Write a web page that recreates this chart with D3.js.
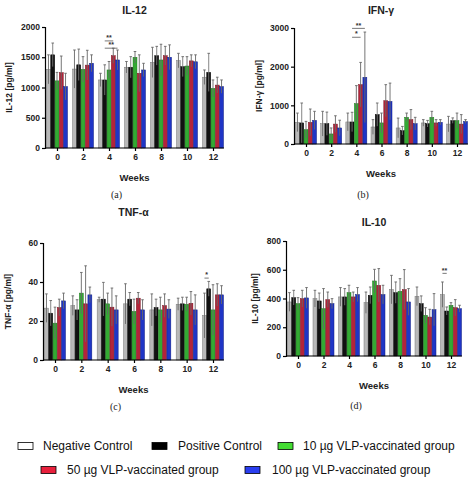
<!DOCTYPE html>
<html>
<head>
<meta charset="utf-8">
<script src="https://cdn.jsdelivr.net/npm/d3@7"></script>
<style>
	body { margin: 0; background: #fff; }
	svg { display: block; }
</style>
</head>
<body>
<div id="chart"></div>
<script>
// --- data ---
const weeks = [0, 2, 4, 6, 8, 10, 12];
const groups = ["Negative Control", "Positive Control", "10 µg VLP-vaccinated group",
	"50 µg VLP-vaccinated group", "100 µg VLP-vaccinated group"];
const barColors = ["#b8b8b8", "#111111", "#33aa33", "#b3243a", "#1f35c6"];
const barStrokes = ["#7a7a7a", "#000000", "#1f7a1f", "#7a1422", "#101f80"];
const legendColors = ["#ffffff", "#000000", "#44dd33", "#e8203c", "#2a3ef0"];

// IL-12 [pg/ml], one array per group, one value per week
const il12Mean = [
	[1300, 1305, 1125, 1335, 1415, 1445, 1170],
	[1540, 1375, 1125, 1335, 1525, 1345, 1250],
	[1110, 1300, 1290, 1500, 1455, 1355, 985],
	[1245, 1370, 1525, 1235, 1525, 1440, 1040],
	[1015, 1400, 1455, 1290, 1500, 1425, 1015]
];
const il12Sd = [
	[240, 315, 110, 95, 250, 120, 120],
	[195, 260, 250, 175, 155, 165, 315],
	[140, 210, 140, 95, 260, 155, 140],
	[275, 245, 125, 305, 155, 100, 130],
	[220, 140, 165, 110, 205, 115, 110]
];

// IFN-γ [pg/ml]
const ifngMean = [
	[560, 525, 570, 440, 415, 545, 515],
	[545, 525, 570, 760, 345, 525, 605],
	[370, 260, 1045, 545, 690, 690, 605],
	[560, 515, 1535, 1120, 630, 545, 515],
	[610, 415, 1725, 1100, 525, 560, 580]
];
const ifngSd = [
	[240, 320, 230, 190, 255, 85, 200],
	[515, 300, 250, 300, 110, 85, 70],
	[215, 155, 465, 255, 110, 155, 195],
	[345, 215, 575, 415, 260, 85, 245],
	[235, 200, 1170, 475, 165, 70, 50]
];

// TNF-α [pg/ml]
const tnfaMean = [
	[26.6, 27.9, 30.9, 28.8, 25.7, 28.6, 22.8],
	[24.0, 25.7, 31.2, 31.2, 26.9, 28.8, 36.5],
	[18.9, 34.3, 28.8, 24.9, 25.7, 28.6, 25.7],
	[26.9, 28.8, 27.1, 31.7, 27.9, 29.1, 33.4],
	[30.3, 33.4, 25.7, 25.7, 26.1, 25.7, 33.4]
];
const tnfaSd = [
	[7.3, 5.0, 1.3, 10.3, 8.2, 3.1, 11.5],
	[6.5, 5.2, 8.6, 3.4, 4.3, 3.4, 3.8],
	[8.2, 10.6, 5.5, 6.3, 6.5, 3.6, 12.9],
	[4.3, 19.5, 9.8, 2.9, 6.0, 6.0, 5.7],
	[4.0, 4.0, 7.2, 5.2, 4.8, 7.7, 4.7]
];

// IL-10 [pg/ml]
const il10Mean = [
	[376, 399, 411, 371, 462, 415, 427],
	[406, 383, 411, 422, 441, 364, 313],
	[364, 329, 441, 522, 450, 283, 353],
	[399, 392, 411, 492, 462, 271, 336],
	[404, 364, 427, 427, 376, 322, 329]
];
const il10Sd = [
	[65, 58, 65, 74, 99, 65, 88],
	[51, 55, 58, 58, 74, 54, 28],
	[42, 140, 51, 81, 88, 53, 18],
	[58, 53, 34, 116, 139, 54, 56],
	[72, 35, 49, 65, 93, 112, 24]
];

// significance marks: week, group from/to, level (data units), label
const il12Sig = [
	{week: 4, from: 1, to: 3, level: 1770, label: "**"},
	{week: 4, from: 1, to: 4, level: 1650, label: "**"}
];
const ifngSig = [
	{week: 4, from: 1, to: 4, level: 2990, label: "**"},
	{week: 4, from: 1, to: 3, level: 2760, label: "*"}
];
const tnfaSig = [{week: 12, from: 0, to: 1, level: 42, label: "*"}];
const il10Sig = [{week: 12, from: 0, to: 1, level: 575, label: "**"}];

const il12Ticks = [0, 500, 1000, 1500, 2000];
const ifngTicks = [0, 1000, 2000, 3000];
const tnfaTicks = [0, 20, 40, 60];
const il10Ticks = [0, 200, 400, 600, 800];

// --- layout ---
const W = 474, H = 481;
const SANS = "'Liberation Sans', Arial, sans-serif";
const SERIF = "'Liberation Serif', 'DejaVu Serif', serif";

const panels = [
	{title: "IL-12", ylabel: "IL-12 [pg/ml]", letter: "(a)", mean: il12Mean, sd: il12Sd, sig: il12Sig,
		ticks: il12Ticks, x0: 45, x1: 224, yTop: 27, yBot: 148, titleY: 14, weeksY: 181, letterY: 198, ylabelX: 12},
	{title: "IFN-γ", ylabel: "IFN-γ [pg/ml]", letter: "(b)", mean: ifngMean, sd: ifngSd, sig: ifngSig,
		ticks: ifngTicks, x0: 294, x1: 468, yTop: 28, yBot: 144, titleY: 14, weeksY: 177, letterY: 198, ylabelX: 262},
	{title: "TNF-α", ylabel: "TNF-α [pg/ml]", letter: "(c)", mean: tnfaMean, sd: tnfaSd, sig: tnfaSig,
		ticks: tnfaTicks, x0: 43, x1: 224, yTop: 243, yBot: 360, titleY: 216, weeksY: 393, letterY: 410, ylabelX: 11},
	{title: "IL-10", ylabel: "IL-10 [pg/ml]", letter: "(d)", mean: il10Mean, sd: il10Sd, sig: il10Sig,
		ticks: il10Ticks, x0: 286, x1: 462, yTop: 241, yBot: 356, titleY: 226, weeksY: 389, letterY: 409, ylabelX: 258}
];

const svg = d3.select("#chart").append("svg")
	.attr("width", W)
	.attr("height", H);

panels.forEach(p => drawPanel(p));
drawLegend();

function drawPanel(p) {
	const g = svg.append("g");
	const cx = (p.x0 + p.x1) / 2;

	const x = d3.scalePoint()
		.domain(weeks)
		.range([p.x0 + 12, p.x1 - 11]);

	const inner = d3.scaleBand()
		.domain(d3.range(groups.length))
		.range([-10.5, 10.5])
		.paddingInner(0.08);

	const y = d3.scaleLinear()
		.domain([0, p.ticks[p.ticks.length - 1]])
		.range([p.yBot, p.yTop]);

	// bars
	groups.forEach((name, gi) => {
		const bars = g.append("g");
		bars.selectAll("rect")
			.data(weeks).enter()
			.append("rect")
			.attr("x", (w, i) => x(w) + inner(gi))
			.attr("y", (w, i) => y(p.mean[gi][i]))
			.attr("width", inner.bandwidth())
			.attr("height", (w, i) => p.yBot - y(p.mean[gi][i]))
			.attr("fill", barColors[gi])
			.attr("stroke", barStrokes[gi])
			.attr("stroke-width", 0.5);

		// error bars (mean ± sd, cap on top)
		const ex = w => x(w) + inner(gi) + inner.bandwidth() / 2;
		bars.selectAll("line.err")
			.data(weeks).enter()
			.append("line")
			.attr("class", "err")
			.attr("x1", ex).attr("x2", ex)
			.attr("y1", (w, i) => y(Math.max(0, p.mean[gi][i] - p.sd[gi][i])))
			.attr("y2", (w, i) => y(p.mean[gi][i] + p.sd[gi][i]))
			.attr("stroke", gi === 1 ? "#777" : "#666")
			.attr("stroke-width", 0.9);
		bars.selectAll("line.cap")
			.data(weeks).enter()
			.append("line")
			.attr("class", "cap")
			.attr("x1", w => ex(w) - 1.3).attr("x2", w => ex(w) + 1.3)
			.attr("y1", (w, i) => y(p.mean[gi][i] + p.sd[gi][i]))
			.attr("y2", (w, i) => y(p.mean[gi][i] + p.sd[gi][i]))
			.attr("stroke", "#666")
			.attr("stroke-width", 0.9);
	});

	// y axis
	const yAxis = g.append("g")
		.attr("transform", `translate(${p.x0},0)`)
		.call(d3.axisLeft(y).tickValues(p.ticks).tickSize(3).tickPadding(2).tickFormat(d3.format("d")));
	yAxis.select(".domain").attr("stroke", "#000").attr("stroke-width", 1.2);
	yAxis.selectAll(".tick line").attr("stroke-width", 1.2);
	yAxis.selectAll("text")
		.attr("font-family", SANS)
		.attr("font-weight", "bold")
		.attr("font-size", 8.5)
		.attr("fill", "#222");

	// x axis
	const xAxis = g.append("g")
		.attr("transform", `translate(0,${p.yBot})`)
		.call(d3.axisBottom(x).tickSize(3).tickPadding(3).tickSizeOuter(0));
	xAxis.select(".domain")
		.attr("d", `M${p.x0},0H${p.x1}`)
		.attr("stroke", "#000").attr("stroke-width", 1.2);
	xAxis.selectAll(".tick line").attr("stroke-width", 1.2);
	xAxis.selectAll("text")
		.attr("font-family", SANS)
		.attr("font-weight", "bold")
		.attr("font-size", 8.5)
		.attr("fill", "#222");

	// significance marks
	p.sig.forEach(s => {
		const xa = x(s.week) + inner(s.from) + inner.bandwidth() / 2;
		const xb = x(s.week) + inner(s.to) + inner.bandwidth() / 2;
		g.append("line")
			.attr("x1", xa).attr("x2", xb)
			.attr("y1", y(s.level)).attr("y2", y(s.level))
			.attr("stroke", "#555").attr("stroke-width", 0.8);
		g.append("text")
			.attr("x", (xa + xb) / 2)
			.attr("y", y(s.level) - 0.8)
			.attr("text-anchor", "middle")
			.attr("font-family", SANS)
			.attr("font-weight", "bold")
			.attr("font-size", 7)
			.attr("fill", "#333")
			.text(s.label);
	});

	// titles
	g.append("text")
		.attr("x", cx).attr("y", p.titleY)
		.attr("text-anchor", "middle")
		.attr("font-family", SANS).attr("font-weight", "bold").attr("font-size", 10.5)
		.attr("fill", "#222")
		.text(p.title);

	g.append("text")
		.attr("x", cx).attr("y", p.weeksY)
		.attr("text-anchor", "middle")
		.attr("font-family", SANS).attr("font-weight", "bold").attr("font-size", 9.5)
		.attr("fill", "#222")
		.text("Weeks");

	g.append("text")
		.attr("x", cx - 18).attr("y", p.letterY)
		.attr("text-anchor", "middle")
		.attr("font-family", SERIF).attr("font-size", 10)
		.attr("fill", "#222")
		.text(p.letter);

	g.append("text")
		.attr("transform", `translate(${p.ylabelX},${(p.yTop + p.yBot) / 2}) rotate(-90)`)
		.attr("text-anchor", "middle")
		.attr("font-family", SANS).attr("font-weight", "bold").attr("font-size", 8.5)
		.attr("fill", "#222")
		.text(p.ylabel);
}

function drawLegend() {
	// [box x, text x, row y] per group
	const legendPos = [[18, 43, 446], [152, 178, 446], [278, 303, 446], [41, 67, 470], [245, 272, 470]];
	const lg = svg.append("g")
		.selectAll("g")
		.data(groups).enter()
		.append("g");

	lg.append("rect")
		.attr("x", (d, i) => legendPos[i][0])
		.attr("y", (d, i) => legendPos[i][2] - 3.5)
		.attr("width", 15)
		.attr("height", 7)
		.attr("fill", (d, i) => legendColors[i])
		.attr("stroke", "#000")
		.attr("stroke-width", 0.8);

	lg.append("text")
		.attr("x", (d, i) => legendPos[i][1])
		.attr("y", (d, i) => legendPos[i][2] + 4.3)
		.attr("font-family", SANS)
		.attr("font-size", 12)
		.attr("fill", "#111")
		.text(d => d);
}
</script>
</body>
</html>
